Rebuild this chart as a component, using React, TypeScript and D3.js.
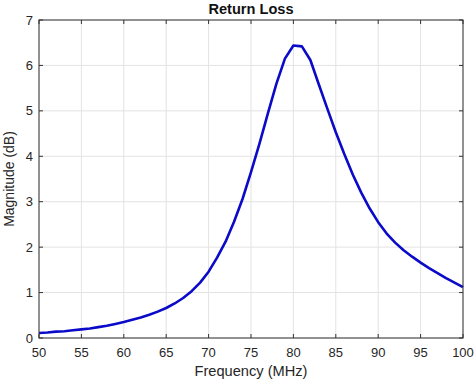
import React from "react";
import * as d3 from "d3";

const frequencies = [50,51,52,53,54,55,56,57,58,59,60,61,62,63,64,65,66,67,68,69,70,71,72,73,74,75,76,77,78,79,80,81,82,83,84,85,86,87,88,89,90,91,92,93,94,95,96,97,98,99,100];
const magnitudes = [0.11,0.12,0.14,0.15,0.17,0.19,0.21,0.24,0.27,0.31,0.35,0.40,0.45,0.51,0.58,0.66,0.76,0.88,1.03,1.22,1.46,1.77,2.12,2.56,3.06,3.65,4.28,4.95,5.6,6.15,6.44,6.42,6.12,5.58,5.05,4.53,4.05,3.6,3.2,2.85,2.55,2.3,2.1,1.93,1.79,1.66,1.54,1.43,1.32,1.22,1.12];
const xTicks = [50,55,60,65,70,75,80,85,90,95,100];
const yTicks = [0,1,2,3,4,5,6,7];
const title = "Return Loss";
const xLabel = "Frequency (MHz)";
const yLabel = "Magnitude (dB)";

export default function App() {
  const W = 474, H = 381;
  const left = 39, right = 463, top = 20, bottom = 338;
  const x = d3.scaleLinear().domain([50, 100]).range([left, right]);
  const y = d3.scaleLinear().domain([0, 7]).range([bottom, top]);
  const line = d3.line<number>().x((_, i) => x(frequencies[i])).y((d) => y(d));
  const font = "Arial, 'Liberation Sans', Helvetica, sans-serif";
  return (
    <svg width={W} height={H} style={{ position: "absolute", left: 0, top: 0, background: "#fff" }} fontFamily={font}>
      <rect x={0} y={0} width={W} height={H} fill="#fff" />
      {xTicks.map((t) => (
        <line key={"gx" + t} x1={x(t)} x2={x(t)} y1={top} y2={bottom} stroke="#e3e3e3" strokeWidth={1} />
      ))}
      {yTicks.map((t) => (
        <line key={"gy" + t} x1={left} x2={right} y1={y(t)} y2={y(t)} stroke="#e3e3e3" strokeWidth={1} />
      ))}
      <path d={line(magnitudes) || ""} fill="none" stroke="#0a0ac8" strokeWidth={2.6} strokeLinejoin="round" />
      <rect x={left} y={top} width={right - left} height={bottom - top} fill="none" stroke="#333" strokeWidth={1} />
      {xTicks.map((t) => (
        <g key={"tx" + t}>
          <line x1={x(t)} x2={x(t)} y1={bottom} y2={bottom - 4} stroke="#333" />
          <line x1={x(t)} x2={x(t)} y1={top} y2={top + 4} stroke="#333" />
          <text x={x(t)} y={357} textAnchor="middle" fontSize={13} fill="#262626">{t}</text>
        </g>
      ))}
      {yTicks.map((t) => (
        <g key={"ty" + t}>
          <line x1={left} x2={left + 4} y1={y(t)} y2={y(t)} stroke="#333" />
          <line x1={right} x2={right - 4} y1={y(t)} y2={y(t)} stroke="#333" />
          <text x={33} y={y(t) + 4.5} textAnchor="end" fontSize={13} fill="#262626">{t}</text>
        </g>
      ))}
      <text x={251} y={14} textAnchor="middle" fontSize={14} fontWeight="bold" fill="#111" textLength={85} lengthAdjust="spacingAndGlyphs">{title}</text>
      <text x={251} y={376} textAnchor="middle" fontSize={14.5} fill="#262626" textLength={113} lengthAdjust="spacingAndGlyphs">{xLabel}</text>
      <text transform={`translate(14,${(top + bottom) / 2}) rotate(-90)`} textAnchor="middle" fontSize={14} fill="#262626">{yLabel}</text>
    </svg>
  );
}
